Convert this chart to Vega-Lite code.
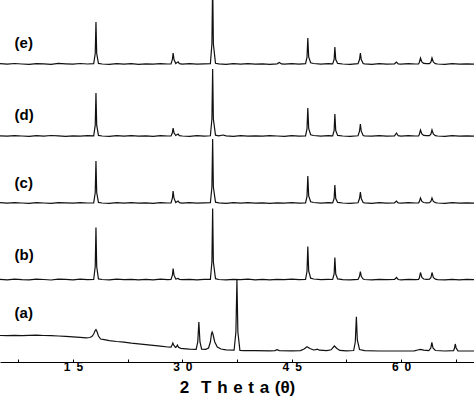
{
  "$schema": "https://vega.github.io/schema/vega-lite/v6.json",
  "description": "Stacked XRD patterns (a)-(e).",
  "width": 474,
  "height": 362,
  "padding": {"left": 0, "top": 0, "right": 0, "bottom": 40},
  "autosize": {"type": "none"},
  "background": "white",
  "config": {"view": {"stroke": null}},
  "datasets": {
    "labels": [
      {"theta": 7.0, "intensity": 319, "label": "(e)"},
      {"theta": 7.0, "intensity": 247, "label": "(d)"},
      {"theta": 7.0, "intensity": 179, "label": "(c)"},
      {"theta": 7.0, "intensity": 107, "label": "(b)"},
      {"theta": 7.0, "intensity": 49, "label": "(a)"}
    ],
    "patterns": [
      {"sample":"e","theta":5,"intensity":298.3},{"sample":"e","theta":6,"intensity":297.8},{"sample":"e","theta":7,"intensity":298.5},{"sample":"e","theta":8,"intensity":298.0},{"sample":"e","theta":9,"intensity":297.6},{"sample":"e","theta":10,"intensity":298.4},{"sample":"e","theta":11,"intensity":298.1},{"sample":"e","theta":12,"intensity":297.7},{"sample":"e","theta":13,"intensity":298.6},{"sample":"e","theta":14,"intensity":298.2},{"sample":"e","theta":15,"intensity":297.9},{"sample":"e","theta":16,"intensity":298.5},{"sample":"e","theta":17,"intensity":298.0},{"sample":"e","theta":17.85,"intensity":298.3},{"sample":"e","theta":18.06,"intensity":308.5},{"sample":"e","theta":18.16,"intensity":340},{"sample":"e","theta":18.26,"intensity":308.5},{"sample":"e","theta":18.5,"intensity":298.6},{"sample":"e","theta":19,"intensity":298.0},{"sample":"e","theta":20,"intensity":297.7},{"sample":"e","theta":21,"intensity":298.4},{"sample":"e","theta":22,"intensity":297.9},{"sample":"e","theta":23,"intensity":298.3},{"sample":"e","theta":24,"intensity":297.6},{"sample":"e","theta":25,"intensity":298.2},{"sample":"e","theta":26,"intensity":297.8},{"sample":"e","theta":27,"intensity":298.4},{"sample":"e","theta":28,"intensity":298.0},{"sample":"e","theta":28.45,"intensity":298.1},{"sample":"e","theta":28.64,"intensity":302.5},{"sample":"e","theta":28.74,"intensity":309},{"sample":"e","theta":28.86,"intensity":302.5},{"sample":"e","theta":29.1,"intensity":298.5},{"sample":"e","theta":29.42,"intensity":300.2},{"sample":"e","theta":29.6,"intensity":298.4},{"sample":"e","theta":30,"intensity":297.9},{"sample":"e","theta":31,"intensity":298.3},{"sample":"e","theta":32,"intensity":297.8},{"sample":"e","theta":33,"intensity":298.2},{"sample":"e","theta":33.85,"intensity":298.3},{"sample":"e","theta":34.06,"intensity":318},{"sample":"e","theta":34.16,"intensity":380},{"sample":"e","theta":34.26,"intensity":318},{"sample":"e","theta":34.55,"intensity":298.7},{"sample":"e","theta":35,"intensity":298.1},{"sample":"e","theta":36,"intensity":297.7},{"sample":"e","theta":37,"intensity":298.3},{"sample":"e","theta":38,"intensity":297.9},{"sample":"e","theta":39,"intensity":298.4},{"sample":"e","theta":40,"intensity":297.8},{"sample":"e","theta":41,"intensity":298.1},{"sample":"e","theta":42,"intensity":297.7},{"sample":"e","theta":43,"intensity":298.2},{"sample":"e","theta":43.3,"intensity":299.5},{"sample":"e","theta":43.6,"intensity":298.1},{"sample":"e","theta":44,"intensity":297.8},{"sample":"e","theta":45,"intensity":298.3},{"sample":"e","theta":46,"intensity":297.9},{"sample":"e","theta":46.9,"intensity":298.3},{"sample":"e","theta":47.1,"intensity":304.5},{"sample":"e","theta":47.21,"intensity":324},{"sample":"e","theta":47.33,"intensity":305},{"sample":"e","theta":47.6,"intensity":299.2},{"sample":"e","theta":48,"intensity":298.5},{"sample":"e","theta":49,"intensity":297.9},{"sample":"e","theta":50,"intensity":298.3},{"sample":"e","theta":50.62,"intensity":298.1},{"sample":"e","theta":50.82,"intensity":302.5},{"sample":"e","theta":50.92,"intensity":315},{"sample":"e","theta":51.04,"intensity":302.5},{"sample":"e","theta":51.3,"intensity":298.6},{"sample":"e","theta":52,"intensity":298.0},{"sample":"e","theta":53,"intensity":297.7},{"sample":"e","theta":54.1,"intensity":298.3},{"sample":"e","theta":54.3,"intensity":302.5},{"sample":"e","theta":54.42,"intensity":309},{"sample":"e","theta":54.54,"intensity":302.5},{"sample":"e","theta":54.8,"intensity":298.5},{"sample":"e","theta":55,"intensity":298.1},{"sample":"e","theta":56,"intensity":297.7},{"sample":"e","theta":57,"intensity":298.3},{"sample":"e","theta":58,"intensity":297.9},{"sample":"e","theta":59.1,"intensity":298.2},{"sample":"e","theta":59.37,"intensity":300},{"sample":"e","theta":59.6,"intensity":298.1},{"sample":"e","theta":60,"intensity":297.8},{"sample":"e","theta":61,"intensity":298.3},{"sample":"e","theta":62,"intensity":298.0},{"sample":"e","theta":62.4,"intensity":298.2},{"sample":"e","theta":62.5,"intensity":299.5},{"sample":"e","theta":62.66,"intensity":304},{"sample":"e","theta":62.85,"intensity":300},{"sample":"e","theta":63.1,"intensity":298.6},{"sample":"e","theta":63.5,"intensity":298.3},{"sample":"e","theta":63.9,"intensity":298.4},{"sample":"e","theta":64.1,"intensity":300},{"sample":"e","theta":64.24,"intensity":304},{"sample":"e","theta":64.42,"intensity":300},{"sample":"e","theta":64.7,"intensity":298.4},{"sample":"e","theta":65,"intensity":298.0},{"sample":"e","theta":66,"intensity":297.7},{"sample":"e","theta":67,"intensity":298.3},{"sample":"e","theta":68,"intensity":297.8},{"sample":"e","theta":69,"intensity":298.2},{"sample":"e","theta":70,"intensity":297.9},

      {"sample":"d","theta":5,"intensity":226.2},{"sample":"d","theta":6,"intensity":225.8},{"sample":"d","theta":7,"intensity":226.4},{"sample":"d","theta":8,"intensity":226.0},{"sample":"d","theta":9,"intensity":225.7},{"sample":"d","theta":10,"intensity":226.3},{"sample":"d","theta":11,"intensity":225.9},{"sample":"d","theta":12,"intensity":226.5},{"sample":"d","theta":13,"intensity":226.1},{"sample":"d","theta":14,"intensity":225.7},{"sample":"d","theta":15,"intensity":226.2},{"sample":"d","theta":16,"intensity":225.9},{"sample":"d","theta":17,"intensity":226.4},{"sample":"d","theta":17.85,"intensity":226.1},{"sample":"d","theta":18.06,"intensity":236.8},{"sample":"d","theta":18.16,"intensity":269},{"sample":"d","theta":18.26,"intensity":236.8},{"sample":"d","theta":18.5,"intensity":226.6},{"sample":"d","theta":19,"intensity":226.0},{"sample":"d","theta":20,"intensity":225.6},{"sample":"d","theta":21,"intensity":226.3},{"sample":"d","theta":22,"intensity":225.9},{"sample":"d","theta":23,"intensity":226.4},{"sample":"d","theta":24,"intensity":225.8},{"sample":"d","theta":25,"intensity":226.2},{"sample":"d","theta":26,"intensity":225.7},{"sample":"d","theta":27,"intensity":226.3},{"sample":"d","theta":28,"intensity":226.0},{"sample":"d","theta":28.45,"intensity":226.1},{"sample":"d","theta":28.64,"intensity":229.2},{"sample":"d","theta":28.74,"intensity":234},{"sample":"d","theta":28.86,"intensity":229.2},{"sample":"d","theta":29.1,"intensity":226.5},{"sample":"d","theta":29.42,"intensity":228},{"sample":"d","theta":29.6,"intensity":226.4},{"sample":"d","theta":30,"intensity":226.0},{"sample":"d","theta":31,"intensity":225.7},{"sample":"d","theta":32,"intensity":226.3},{"sample":"d","theta":33,"intensity":225.9},{"sample":"d","theta":33.85,"intensity":226.2},{"sample":"d","theta":34.06,"intensity":243},{"sample":"d","theta":34.16,"intensity":293},{"sample":"d","theta":34.26,"intensity":243},{"sample":"d","theta":34.55,"intensity":226.8},{"sample":"d","theta":35,"intensity":226.2},{"sample":"d","theta":35.6,"intensity":227.0},{"sample":"d","theta":36,"intensity":226.1},{"sample":"d","theta":37,"intensity":225.7},{"sample":"d","theta":38,"intensity":226.3},{"sample":"d","theta":39,"intensity":225.8},{"sample":"d","theta":40,"intensity":226.2},{"sample":"d","theta":41,"intensity":225.9},{"sample":"d","theta":42,"intensity":226.4},{"sample":"d","theta":43,"intensity":226.0},{"sample":"d","theta":44,"intensity":225.7},{"sample":"d","theta":45,"intensity":226.3},{"sample":"d","theta":46,"intensity":225.9},{"sample":"d","theta":46.9,"intensity":226.2},{"sample":"d","theta":47.1,"intensity":233},{"sample":"d","theta":47.21,"intensity":254},{"sample":"d","theta":47.33,"intensity":233.5},{"sample":"d","theta":47.6,"intensity":227.2},{"sample":"d","theta":48,"intensity":226.5},{"sample":"d","theta":49,"intensity":225.9},{"sample":"d","theta":50,"intensity":226.3},{"sample":"d","theta":50.62,"intensity":226.1},{"sample":"d","theta":50.82,"intensity":231.5},{"sample":"d","theta":50.92,"intensity":248},{"sample":"d","theta":51.04,"intensity":231.5},{"sample":"d","theta":51.3,"intensity":226.6},{"sample":"d","theta":52,"intensity":226.0},{"sample":"d","theta":53,"intensity":225.7},{"sample":"d","theta":54.1,"intensity":226.2},{"sample":"d","theta":54.3,"intensity":230.8},{"sample":"d","theta":54.42,"intensity":238},{"sample":"d","theta":54.54,"intensity":230.8},{"sample":"d","theta":54.8,"intensity":226.5},{"sample":"d","theta":55,"intensity":226.1},{"sample":"d","theta":56,"intensity":225.8},{"sample":"d","theta":57,"intensity":226.3},{"sample":"d","theta":58,"intensity":225.9},{"sample":"d","theta":59.1,"intensity":226.2},{"sample":"d","theta":59.37,"intensity":229},{"sample":"d","theta":59.6,"intensity":226.3},{"sample":"d","theta":60,"intensity":225.9},{"sample":"d","theta":61,"intensity":226.4},{"sample":"d","theta":62,"intensity":226.0},{"sample":"d","theta":62.4,"intensity":226.2},{"sample":"d","theta":62.5,"intensity":227.5},{"sample":"d","theta":62.66,"intensity":232},{"sample":"d","theta":62.85,"intensity":228},{"sample":"d","theta":63.1,"intensity":226.6},{"sample":"d","theta":63.5,"intensity":226.3},{"sample":"d","theta":63.9,"intensity":226.4},{"sample":"d","theta":64.1,"intensity":228},{"sample":"d","theta":64.24,"intensity":232},{"sample":"d","theta":64.42,"intensity":228},{"sample":"d","theta":64.7,"intensity":226.4},{"sample":"d","theta":65,"intensity":226.0},{"sample":"d","theta":66,"intensity":225.7},{"sample":"d","theta":67,"intensity":226.3},{"sample":"d","theta":68,"intensity":225.8},{"sample":"d","theta":69,"intensity":226.2},{"sample":"d","theta":70,"intensity":225.9},

      {"sample":"c","theta":5,"intensity":159.3},{"sample":"c","theta":6,"intensity":158.8},{"sample":"c","theta":7,"intensity":159.4},{"sample":"c","theta":8,"intensity":159.0},{"sample":"c","theta":9,"intensity":158.7},{"sample":"c","theta":10,"intensity":159.3},{"sample":"c","theta":11,"intensity":159.0},{"sample":"c","theta":12,"intensity":158.6},{"sample":"c","theta":13,"intensity":159.4},{"sample":"c","theta":14,"intensity":159.1},{"sample":"c","theta":15,"intensity":158.8},{"sample":"c","theta":16,"intensity":159.4},{"sample":"c","theta":17,"intensity":159.0},{"sample":"c","theta":17.85,"intensity":159.2},{"sample":"c","theta":18.06,"intensity":169.5},{"sample":"c","theta":18.16,"intensity":201},{"sample":"c","theta":18.26,"intensity":169.5},{"sample":"c","theta":18.5,"intensity":159.6},{"sample":"c","theta":19,"intensity":159.0},{"sample":"c","theta":20,"intensity":158.7},{"sample":"c","theta":21,"intensity":159.3},{"sample":"c","theta":22,"intensity":158.9},{"sample":"c","theta":23,"intensity":159.4},{"sample":"c","theta":24,"intensity":158.8},{"sample":"c","theta":25,"intensity":159.2},{"sample":"c","theta":26,"intensity":158.7},{"sample":"c","theta":27,"intensity":159.3},{"sample":"c","theta":28,"intensity":159.0},{"sample":"c","theta":28.45,"intensity":159.1},{"sample":"c","theta":28.64,"intensity":163.8},{"sample":"c","theta":28.74,"intensity":171},{"sample":"c","theta":28.86,"intensity":163.8},{"sample":"c","theta":29.1,"intensity":159.5},{"sample":"c","theta":29.42,"intensity":161},{"sample":"c","theta":29.6,"intensity":159.3},{"sample":"c","theta":30,"intensity":158.9},{"sample":"c","theta":31,"intensity":159.3},{"sample":"c","theta":32,"intensity":158.8},{"sample":"c","theta":33,"intensity":159.2},{"sample":"c","theta":33.85,"intensity":159.3},{"sample":"c","theta":34.06,"intensity":175},{"sample":"c","theta":34.16,"intensity":223},{"sample":"c","theta":34.26,"intensity":175},{"sample":"c","theta":34.55,"intensity":159.8},{"sample":"c","theta":35,"intensity":159.1},{"sample":"c","theta":36,"intensity":158.7},{"sample":"c","theta":37,"intensity":159.3},{"sample":"c","theta":38,"intensity":158.9},{"sample":"c","theta":39,"intensity":159.4},{"sample":"c","theta":40,"intensity":158.8},{"sample":"c","theta":41,"intensity":159.1},{"sample":"c","theta":42,"intensity":158.7},{"sample":"c","theta":43,"intensity":159.2},{"sample":"c","theta":44,"intensity":158.8},{"sample":"c","theta":45,"intensity":159.3},{"sample":"c","theta":46,"intensity":158.9},{"sample":"c","theta":46.9,"intensity":159.2},{"sample":"c","theta":47.1,"intensity":165.5},{"sample":"c","theta":47.21,"intensity":186},{"sample":"c","theta":47.33,"intensity":166},{"sample":"c","theta":47.6,"intensity":160.2},{"sample":"c","theta":48,"intensity":159.5},{"sample":"c","theta":49,"intensity":158.9},{"sample":"c","theta":50,"intensity":159.3},{"sample":"c","theta":50.62,"intensity":159.1},{"sample":"c","theta":50.82,"intensity":163.5},{"sample":"c","theta":50.92,"intensity":177},{"sample":"c","theta":51.04,"intensity":163.5},{"sample":"c","theta":51.3,"intensity":159.6},{"sample":"c","theta":52,"intensity":159.0},{"sample":"c","theta":53,"intensity":158.7},{"sample":"c","theta":54.1,"intensity":159.2},{"sample":"c","theta":54.3,"intensity":163.5},{"sample":"c","theta":54.42,"intensity":170},{"sample":"c","theta":54.54,"intensity":163.5},{"sample":"c","theta":54.8,"intensity":159.5},{"sample":"c","theta":55,"intensity":159.1},{"sample":"c","theta":56,"intensity":158.7},{"sample":"c","theta":57,"intensity":159.3},{"sample":"c","theta":58,"intensity":158.9},{"sample":"c","theta":59.1,"intensity":159.2},{"sample":"c","theta":59.37,"intensity":161},{"sample":"c","theta":59.6,"intensity":159.1},{"sample":"c","theta":60,"intensity":158.8},{"sample":"c","theta":61,"intensity":159.3},{"sample":"c","theta":62,"intensity":159.0},{"sample":"c","theta":62.4,"intensity":159.2},{"sample":"c","theta":62.5,"intensity":160.3},{"sample":"c","theta":62.66,"intensity":164},{"sample":"c","theta":62.85,"intensity":160.6},{"sample":"c","theta":63.1,"intensity":159.5},{"sample":"c","theta":63.5,"intensity":159.2},{"sample":"c","theta":63.9,"intensity":159.4},{"sample":"c","theta":64.1,"intensity":160.8},{"sample":"c","theta":64.24,"intensity":164},{"sample":"c","theta":64.42,"intensity":160.6},{"sample":"c","theta":64.7,"intensity":159.4},{"sample":"c","theta":65,"intensity":159.0},{"sample":"c","theta":66,"intensity":158.7},{"sample":"c","theta":67,"intensity":159.3},{"sample":"c","theta":68,"intensity":158.8},{"sample":"c","theta":69,"intensity":159.2},{"sample":"c","theta":70,"intensity":158.9},

      {"sample":"b","theta":5,"intensity":82.7},{"sample":"b","theta":6,"intensity":82.2},{"sample":"b","theta":7,"intensity":82.9},{"sample":"b","theta":8,"intensity":82.4},{"sample":"b","theta":9,"intensity":82.1},{"sample":"b","theta":10,"intensity":82.8},{"sample":"b","theta":11,"intensity":82.5},{"sample":"b","theta":12,"intensity":82.0},{"sample":"b","theta":13,"intensity":82.9},{"sample":"b","theta":14,"intensity":82.6},{"sample":"b","theta":15,"intensity":82.2},{"sample":"b","theta":16,"intensity":82.8},{"sample":"b","theta":17,"intensity":82.4},{"sample":"b","theta":17.85,"intensity":82.6},{"sample":"b","theta":18.06,"intensity":95.5},{"sample":"b","theta":18.16,"intensity":134.5},{"sample":"b","theta":18.26,"intensity":95.5},{"sample":"b","theta":18.5,"intensity":83.1},{"sample":"b","theta":19,"intensity":82.5},{"sample":"b","theta":20,"intensity":82.1},{"sample":"b","theta":21,"intensity":82.8},{"sample":"b","theta":22,"intensity":82.3},{"sample":"b","theta":23,"intensity":82.7},{"sample":"b","theta":24,"intensity":82.1},{"sample":"b","theta":25,"intensity":82.6},{"sample":"b","theta":26,"intensity":82.2},{"sample":"b","theta":27,"intensity":82.8},{"sample":"b","theta":28,"intensity":82.4},{"sample":"b","theta":28.45,"intensity":82.5},{"sample":"b","theta":28.64,"intensity":86.8},{"sample":"b","theta":28.74,"intensity":93.5},{"sample":"b","theta":28.86,"intensity":86.8},{"sample":"b","theta":29.1,"intensity":82.9},{"sample":"b","theta":29.42,"intensity":83.6},{"sample":"b","theta":29.6,"intensity":82.7},{"sample":"b","theta":30,"intensity":82.3},{"sample":"b","theta":31,"intensity":82.7},{"sample":"b","theta":32,"intensity":82.2},{"sample":"b","theta":33,"intensity":82.6},{"sample":"b","theta":33.85,"intensity":82.7},{"sample":"b","theta":34.06,"intensity":100},{"sample":"b","theta":34.16,"intensity":153.5},{"sample":"b","theta":34.26,"intensity":100},{"sample":"b","theta":34.55,"intensity":83.3},{"sample":"b","theta":35,"intensity":82.5},{"sample":"b","theta":36,"intensity":82.1},{"sample":"b","theta":37,"intensity":82.7},{"sample":"b","theta":38,"intensity":82.3},{"sample":"b","theta":39,"intensity":82.8},{"sample":"b","theta":40,"intensity":82.2},{"sample":"b","theta":41,"intensity":82.6},{"sample":"b","theta":42,"intensity":82.1},{"sample":"b","theta":43,"intensity":82.7},{"sample":"b","theta":44,"intensity":82.3},{"sample":"b","theta":45,"intensity":82.8},{"sample":"b","theta":46,"intensity":82.4},{"sample":"b","theta":46.9,"intensity":82.6},{"sample":"b","theta":47.1,"intensity":90.5},{"sample":"b","theta":47.21,"intensity":115.5},{"sample":"b","theta":47.33,"intensity":91},{"sample":"b","theta":47.6,"intensity":83.8},{"sample":"b","theta":48,"intensity":83.0},{"sample":"b","theta":49,"intensity":82.3},{"sample":"b","theta":50,"intensity":82.7},{"sample":"b","theta":50.62,"intensity":82.5},{"sample":"b","theta":50.82,"intensity":88},{"sample":"b","theta":50.92,"intensity":104.5},{"sample":"b","theta":51.04,"intensity":88},{"sample":"b","theta":51.3,"intensity":83.1},{"sample":"b","theta":52,"intensity":82.4},{"sample":"b","theta":53,"intensity":82.1},{"sample":"b","theta":54.1,"intensity":82.6},{"sample":"b","theta":54.3,"intensity":85.7},{"sample":"b","theta":54.42,"intensity":90.5},{"sample":"b","theta":54.54,"intensity":85.7},{"sample":"b","theta":54.8,"intensity":82.9},{"sample":"b","theta":55,"intensity":82.5},{"sample":"b","theta":56,"intensity":82.1},{"sample":"b","theta":57,"intensity":82.7},{"sample":"b","theta":58,"intensity":82.3},{"sample":"b","theta":59.1,"intensity":82.6},{"sample":"b","theta":59.37,"intensity":84.5},{"sample":"b","theta":59.6,"intensity":82.5},{"sample":"b","theta":60,"intensity":82.2},{"sample":"b","theta":61,"intensity":82.7},{"sample":"b","theta":62,"intensity":82.4},{"sample":"b","theta":62.4,"intensity":82.6},{"sample":"b","theta":62.5,"intensity":84},{"sample":"b","theta":62.66,"intensity":89.5},{"sample":"b","theta":62.85,"intensity":84.5},{"sample":"b","theta":63.1,"intensity":83},{"sample":"b","theta":63.5,"intensity":82.6},{"sample":"b","theta":63.9,"intensity":82.8},{"sample":"b","theta":64.1,"intensity":84.5},{"sample":"b","theta":64.24,"intensity":89.5},{"sample":"b","theta":64.42,"intensity":84.5},{"sample":"b","theta":64.7,"intensity":82.8},{"sample":"b","theta":65,"intensity":82.4},{"sample":"b","theta":66,"intensity":82.1},{"sample":"b","theta":67,"intensity":82.7},{"sample":"b","theta":68,"intensity":82.2},{"sample":"b","theta":69,"intensity":82.6},{"sample":"b","theta":70,"intensity":82.3},

      {"sample":"a","theta":5,"intensity":26.5},{"sample":"a","theta":6,"intensity":26.3},{"sample":"a","theta":7,"intensity":26.7},{"sample":"a","theta":8,"intensity":26.4},{"sample":"a","theta":9,"intensity":26.6},{"sample":"a","theta":10,"intensity":26.8},{"sample":"a","theta":11,"intensity":26.5},{"sample":"a","theta":12,"intensity":26.3},{"sample":"a","theta":13,"intensity":26.0},{"sample":"a","theta":14,"intensity":25.6},{"sample":"a","theta":15,"intensity":25.2},{"sample":"a","theta":16,"intensity":24.6},{"sample":"a","theta":16.8,"intensity":24.2},{"sample":"a","theta":17.3,"intensity":24.5},{"sample":"a","theta":17.6,"intensity":25.5},{"sample":"a","theta":17.85,"intensity":28},{"sample":"a","theta":18.05,"intensity":31.5},{"sample":"a","theta":18.16,"intensity":32.5},{"sample":"a","theta":18.3,"intensity":30.5},{"sample":"a","theta":18.5,"intensity":26},{"sample":"a","theta":18.8,"intensity":23},{"sample":"a","theta":19.3,"intensity":22.3},{"sample":"a","theta":20,"intensity":21.4},{"sample":"a","theta":21,"intensity":20.5},{"sample":"a","theta":22,"intensity":19.8},{"sample":"a","theta":23,"intensity":18.9},{"sample":"a","theta":24,"intensity":18.2},{"sample":"a","theta":25,"intensity":17.4},{"sample":"a","theta":26,"intensity":16.6},{"sample":"a","theta":27,"intensity":15.8},{"sample":"a","theta":28,"intensity":15.0},{"sample":"a","theta":28.45,"intensity":14.8},{"sample":"a","theta":28.6,"intensity":17},{"sample":"a","theta":28.7,"intensity":19},{"sample":"a","theta":28.82,"intensity":17},{"sample":"a","theta":29.05,"intensity":14.6},{"sample":"a","theta":29.2,"intensity":15.2},{"sample":"a","theta":29.33,"intensity":17},{"sample":"a","theta":29.48,"intensity":14.8},{"sample":"a","theta":29.8,"intensity":13.7},{"sample":"a","theta":30.5,"intensity":13.2},{"sample":"a","theta":31,"intensity":12.9},{"sample":"a","theta":31.9,"intensity":12.6},{"sample":"a","theta":32.12,"intensity":20},{"sample":"a","theta":32.27,"intensity":40},{"sample":"a","theta":32.42,"intensity":20},{"sample":"a","theta":32.65,"intensity":12.8},{"sample":"a","theta":33.2,"intensity":12.6},{"sample":"a","theta":33.6,"intensity":14},{"sample":"a","theta":33.85,"intensity":20},{"sample":"a","theta":34.0,"intensity":28},{"sample":"a","theta":34.09,"intensity":30},{"sample":"a","theta":34.2,"intensity":28},{"sample":"a","theta":34.45,"intensity":20},{"sample":"a","theta":34.8,"intensity":15},{"sample":"a","theta":35.3,"intensity":13},{"sample":"a","theta":36,"intensity":12.2},{"sample":"a","theta":37.1,"intensity":11.8},{"sample":"a","theta":37.35,"intensity":30},{"sample":"a","theta":37.49,"intensity":82},{"sample":"a","theta":37.62,"intensity":30},{"sample":"a","theta":37.9,"intensity":11.6},{"sample":"a","theta":38.5,"intensity":11.4},{"sample":"a","theta":40,"intensity":11.3},{"sample":"a","theta":42,"intensity":11.2},{"sample":"a","theta":42.7,"intensity":11.4},{"sample":"a","theta":43,"intensity":12.3},{"sample":"a","theta":43.3,"intensity":11.4},{"sample":"a","theta":45,"intensity":11.2},{"sample":"a","theta":46.2,"intensity":11.4},{"sample":"a","theta":46.7,"intensity":13},{"sample":"a","theta":47.1,"intensity":15.3},{"sample":"a","theta":47.5,"intensity":13.5},{"sample":"a","theta":48,"intensity":12},{"sample":"a","theta":48.3,"intensity":12.3},{"sample":"a","theta":48.52,"intensity":12.8},{"sample":"a","theta":48.8,"intensity":11.8},{"sample":"a","theta":49.8,"intensity":11.3},{"sample":"a","theta":50.4,"intensity":12.2},{"sample":"a","theta":50.85,"intensity":16},{"sample":"a","theta":51.2,"intensity":13.5},{"sample":"a","theta":51.6,"intensity":11.6},{"sample":"a","theta":52.5,"intensity":11.2},{"sample":"a","theta":53.5,"intensity":11.5},{"sample":"a","theta":53.72,"intensity":20},{"sample":"a","theta":53.87,"intensity":45.3},{"sample":"a","theta":54.0,"intensity":22},{"sample":"a","theta":54.3,"intensity":12.5},{"sample":"a","theta":55,"intensity":11.3},{"sample":"a","theta":57,"intensity":11.0},{"sample":"a","theta":60,"intensity":11.0},{"sample":"a","theta":61.8,"intensity":11.2},{"sample":"a","theta":62.3,"intensity":12},{"sample":"a","theta":62.66,"intensity":12.6},{"sample":"a","theta":63.1,"intensity":11.8},{"sample":"a","theta":63.8,"intensity":11.3},{"sample":"a","theta":64.08,"intensity":14},{"sample":"a","theta":64.22,"intensity":19.7},{"sample":"a","theta":64.38,"intensity":14},{"sample":"a","theta":64.7,"intensity":11.5},{"sample":"a","theta":66,"intensity":11.0},{"sample":"a","theta":67.2,"intensity":11.3},{"sample":"a","theta":67.33,"intensity":14},{"sample":"a","theta":67.43,"intensity":18},{"sample":"a","theta":67.55,"intensity":14},{"sample":"a","theta":67.8,"intensity":11.2},{"sample":"a","theta":69,"intensity":11.0},{"sample":"a","theta":70,"intensity":11.0}
    ]
  },
  "encoding": {
    "x": {
      "field": "theta",
      "type": "quantitative",
      "scale": {"domain": [5, 70], "nice": false, "zero": false},
      "axis": {
        "values": [7.5, 15, 22.5, 30, 37.5, 45, 52.5, 60, 67.5],
        "labelExpr": "datum.value == 15 ? '1\u20025' : datum.value == 30 ? '3\u20020' : datum.value == 45 ? '4\u20025' : datum.value == 60 ? '6\u20020' : ''",
        "tickSize": -3,
        "tickColor": "black",
        "domainColor": "black",
        "grid": false,
        "labelFont": "Liberation Sans",
        "labelFontWeight": "bold",
        "labelFontSize": 12,
        "labelColor": "black",
        "labelPadding": 2,
        "title": "2\u2002\u2009T\u2004h\u2004e\u2004t\u2004a\u2004(θ)",
        "titleFont": "Liberation Sans",
        "titleFontWeight": "bold",
        "titleFontSize": 17,
        "titleColor": "black",
        "titlePadding": 7
      }
    },
    "y": {
      "field": "intensity",
      "type": "quantitative",
      "scale": {"domain": [0, 362], "nice": false, "zero": false},
      "axis": null
    }
  },
  "layer": [
    {
      "data": {"name": "patterns"},
      "mark": {"type": "line", "color": "#111111", "strokeWidth": 1.2, "clip": true},
      "encoding": {"detail": {"field": "sample", "type": "nominal"}}
    },
    {
      "data": {"name": "labels"},
      "mark": {"type": "text", "align": "left", "baseline": "middle", "font": "Liberation Sans", "fontWeight": "bold", "fontSize": 15, "color": "black"},
      "encoding": {"text": {"field": "label", "type": "nominal"}}
    }
  ]
}
